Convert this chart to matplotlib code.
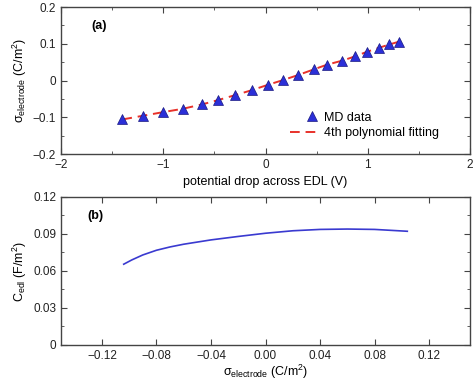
import numpy as np
import matplotlib
matplotlib.use("Agg")
import matplotlib.pyplot as plt
from matplotlib.ticker import MultipleLocator
from matplotlib.legend_handler import HandlerLine2D

plt.rcParams['font.family'] = ['Liberation Sans', 'DejaVu Sans']
plt.rcParams['mathtext.fontset'] = 'custom'
plt.rcParams['mathtext.rm'] = 'Liberation Sans'
plt.rcParams['mathtext.it'] = 'Liberation Sans'

# panel (a): MD data, potential drop vs surface charge
potential = [-1.40, -1.20, -1.00, -0.81, -0.62, -0.46, -0.30, -0.13, 0.02, 0.17,
             0.32, 0.47, 0.60, 0.75, 0.88, 0.99, 1.11, 1.21, 1.31]
sigma_md = [-0.106, -0.096, -0.086, -0.077, -0.065, -0.053, -0.040, -0.026, -0.012, 0.001,
            0.015, 0.030, 0.043, 0.054, 0.066, 0.078, 0.089, 0.098, 0.106]

# panel (b): differential capacitance vs surface charge
sigma_c = [-0.104, -0.098, -0.090, -0.080, -0.070, -0.060, -0.040, -0.020, 0.000,
           0.020, 0.040, 0.060, 0.080, 0.104]
c_edl = [0.0655, 0.0690, 0.0730, 0.0768, 0.0795, 0.0817, 0.0852, 0.0880, 0.0906,
         0.0926, 0.0937, 0.0940, 0.0937, 0.0922]

fs = 8.5
spine_col = '#444444'


class RightMarker(HandlerLine2D):
    # put the single legend marker at the right end of the handle
    def create_artists(self, legend, orig_handle, xdescent, ydescent, width, height, fontsize, trans):
        arts = super().create_artists(legend, orig_handle, xdescent, ydescent,
                                      width, height, fontsize, trans)
        for a in arts:
            y = a.get_ydata()
            a.set_markevery(None)
            a.set_data([-xdescent + width - 4], [y[0]])
        return arts


fig = plt.figure(figsize=(4.74, 3.81), dpi=100)
ax1 = fig.add_axes([0.1287, 0.5958, 0.8629, 0.3858])
ax2 = fig.add_axes([0.1287, 0.0945, 0.8629, 0.3885])

for ax in (ax1, ax2):
    for s in ax.spines.values():
        s.set_color(spine_col)
        s.set_linewidth(1.0)
    ax.tick_params(which='both', direction='in', top=True, right=True,
                   colors=spine_col, labelcolor='#222222', labelsize=fs)
    ax.tick_params(which='major', length=4)
    ax.tick_params(which='minor', length=2.5)

# (a)
fit_line, = ax1.plot(potential, sigma_md, '--', color='#e8312a', lw=1.4, dashes=(5, 3), zorder=2)
md_pts, = ax1.plot(potential, sigma_md, '^', color='#2b2fd8', markeredgecolor='#1a1a80',
                   markeredgewidth=0.5, markersize=7, linestyle='none', zorder=3)
ax1.set_xlim(-2, 2)
ax1.set_ylim(-0.2, 0.2)
ax1.xaxis.set_major_locator(MultipleLocator(1))
ax1.xaxis.set_minor_locator(MultipleLocator(0.5))
ax1.yaxis.set_major_locator(MultipleLocator(0.1))
ax1.yaxis.set_minor_locator(MultipleLocator(0.05))
ax1.xaxis.set_major_formatter(plt.FuncFormatter(lambda v, p: ('%g' % v).replace('-', '\u2212')))
ax1.yaxis.set_major_formatter(plt.FuncFormatter(lambda v, p: ('%g' % round(v, 2)).replace('-', '\u2212')))
ax1.set_xlabel('potential drop across EDL (V)', fontsize=fs + 0.5, labelpad=4)
ax1.set_ylabel(r'$\sigma_{\rm electrode}$ (C/m$^2$)', fontsize=fs + 0.5, labelpad=3)
ax1.text(0.075, 0.85, '(a)', transform=ax1.transAxes, fontsize=fs + 0.5, fontweight='bold')
ax1.legend([md_pts, fit_line], ['MD data', '4th polynomial fitting'], loc='lower right',
           frameon=False, fontsize=fs + 0.5, handlelength=2.2, handletextpad=0.5,
           borderaxespad=0.6, labelspacing=0.3, bbox_to_anchor=(0.955, 0.015),
           handler_map={md_pts: RightMarker(numpoints=1)})

# (b)
ax2.plot(sigma_c, c_edl, '-', color='#3a3ad0', lw=1.2)
ax2.set_xlim(-0.15, 0.15)
ax2.set_ylim(0, 0.12)
ax2.set_xticks([-0.12, -0.08, -0.04, 0.0, 0.04, 0.08, 0.12])
ax2.yaxis.set_major_locator(MultipleLocator(0.03))
ax2.yaxis.set_minor_locator(MultipleLocator(0.015))
ax2.xaxis.set_major_formatter(plt.FuncFormatter(lambda v, p: ('%.2f' % v).replace('-', '\u2212')))
ax2.yaxis.set_major_formatter(plt.FuncFormatter(lambda v, p: '0' if abs(v) < 1e-9 else '%.2f' % v))
ax2.set_xlabel(r'$\sigma_{\rm electrode}$ (C/m$^2$)', fontsize=fs + 0.5, labelpad=1)
ax2.set_ylabel(r'C$_{\rm edl}$ (F/m$^2$)', fontsize=fs + 0.5, labelpad=3)
ax2.text(0.065, 0.85, '(b)', transform=ax2.transAxes, fontsize=fs + 0.5, fontweight='bold')

fig.savefig('out.png', dpi=100)
